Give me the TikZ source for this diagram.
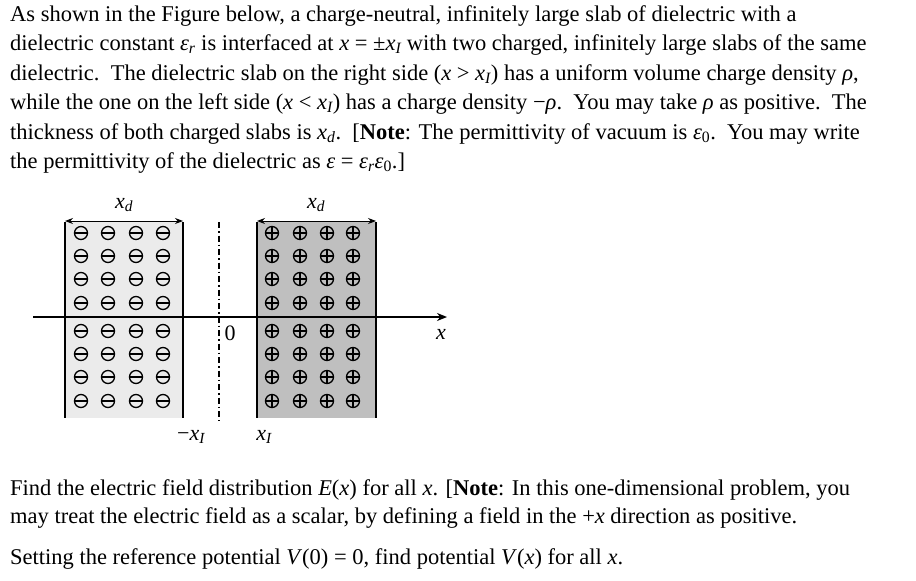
\documentclass[tikz,border=0pt]{standalone}
\usepackage{fontspec}
\setmainfont{Liberation Serif}
\usetikzlibrary{arrows.meta}
\begin{document}
\begin{tikzpicture}[x=1pt,y=-1pt,
  txt/.style={anchor=base west,inner sep=0pt,font=\fontsize{22.5}{26}\selectfont},
  lbl/.style={inner sep=0pt,font=\fontsize{22}{26}\selectfont},
  slabline/.style={line width=2pt},
  chg/.style={circle,draw,line width=1.3pt,minimum size=13pt,inner sep=0pt}]
\useasboundingbox (0,0) rectangle (916,581);
\node[txt] (l1) at (10,21) {As shown in the Figure below, a charge-neutral, infinitely large slab of dielectric with a};
\node[txt] (l2) at (10,50.5) {dielectric constant \textit{ε\textsubscript{r}} is interfaced at \textit{x} = ±\textit{x\textsubscript{I}} with two charged, infinitely large slabs of the same};
\node[txt] (l3) at (10,80) {dielectric.\, The dielectric slab on the right side (\textit{x} > \textit{x\textsubscript{I}}) has a uniform volume charge density \textit{ρ},};
\node[txt] (l4) at (10,109.5) {while the one on the left side (\textit{x} < \textit{x\textsubscript{I}}) has a charge density −\textit{ρ}.\, You may take \textit{ρ} as positive.\, The};
\node[txt] (l5) at (10,139) {thickness of both charged slabs is \textit{x\textsubscript{d}}.\, [\textbf{Note}: The permittivity of vacuum is \textit{ε}\textsubscript{0}.\, You may write};
\node[txt] (l6) at (10,168.5) {the permittivity of the dielectric as \textit{ε} = \textit{ε\textsubscript{r}ε}\textsubscript{0}.]};
\node[txt] (b1) at (10,495) {Find the electric field distribution \textit{E}(\textit{x}) for all \textit{x}. [\textbf{Note}: In this one-dimensional problem, you};
\node[txt] (b2) at (10,523) {may treat the electric field as a scalar, by defining a field in the +\textit{x} direction as positive.};
\node[txt] (b3) at (10,564) {Setting the reference potential \textit{V}(0) = 0, find potential \textit{V}(\textit{x}) for all \textit{x}.};
% slabs
\fill[black!8] (65,222) rectangle (183,418);
\fill[black!25] (257,222) rectangle (376,418);
\draw[slabline] (65,222) -- (65,418) (183,222) -- (183,418) (257,222) -- (257,418) (376,222) -- (376,418);
\foreach \y in {233,256,279,303,331,354,377,401}{
  \foreach \x in {81,108,136,163}{
    \node[chg] at (\x,\y) {};
    \draw[line width=1.3pt] (\x-6.5,\y) -- (\x+6.5,\y);}
  \foreach \x in {272,300,327,353}{
    \node[chg] at (\x,\y) {};
    \draw[line width=1.3pt] (\x-6.5,\y) -- (\x+6.5,\y) (\x,\y-6.5) -- (\x,\y+6.5);}
}
\draw[line width=1.2pt,dash pattern=on 6pt off 3pt on 1.5pt off 3pt] (219,222) -- (219,421);
\coordinate (axL) at (33,317);
\coordinate (axR) at (447,317);
\draw[line width=2pt,-{Stealth[length=10pt,width=8pt]}] (axL) -- (axR);
\coordinate (dL1) at (65,221); \coordinate (dR1) at (183,221);
\coordinate (dL2) at (257,221); \coordinate (dR2) at (376,221);
\draw[line width=1pt,{Stealth[length=8pt]}-{Stealth[length=8pt]}] (dL1) -- (dR1);
\draw[line width=1pt,{Stealth[length=8pt]}-{Stealth[length=8pt]}] (dL2) -- (dR2);
\node[lbl] (xd1) at (124,205) {\textit{x\textsubscript{d}}};
\node[lbl] (xd2) at (316,205) {\textit{x\textsubscript{d}}};
\node[lbl] (zero) at (230,333) {0};
\node[lbl] (xax) at (441,334) {\textit{x}};
\node[lbl] (mx1) at (191,437) {−\textit{x\textsubscript{I}}};
\node[lbl] (px1) at (264,437) {\textit{x\textsubscript{I}}};
\end{tikzpicture}
\end{document}
